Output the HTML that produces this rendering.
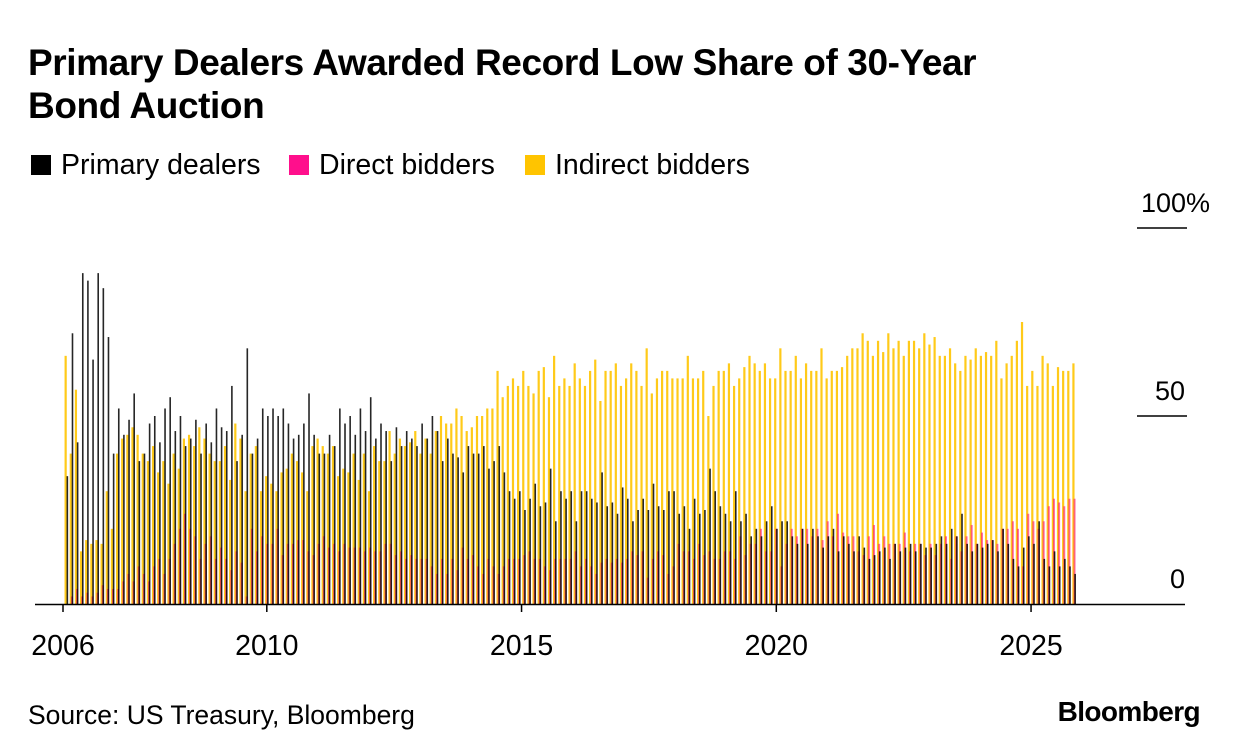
<!DOCTYPE html>
<html><head><meta charset="utf-8"><style>
body{margin:0;width:1240px;height:756px;background:#fff;font-family:"Liberation Sans",sans-serif;overflow:hidden;position:relative}
.t{position:absolute;left:28px;top:41px;font-size:37px;font-weight:bold;line-height:43px;color:#000;letter-spacing:-0.4px}
.lg{position:absolute;top:149px;font-size:28.5px;color:#000}
.sw{display:inline-block;width:20px;height:20px;margin-right:10px;vertical-align:-1px}
.src{position:absolute;left:28px;top:700px;font-size:26.5px}
.bb{position:absolute;right:40px;top:696px;font-size:28px;font-weight:bold;letter-spacing:-0.6px}
</style></head><body>
<div class="t">Primary Dealers Awarded Record Low Share of 30-Year<br>Bond Auction</div>
<div class="lg" style="left:31px"><span class="sw" style="background:#000"></span>Primary dealers</div>
<div class="lg" style="left:289px"><span class="sw" style="background:#ff0f8c"></span>Direct bidders</div>
<div class="lg" style="left:525px"><span class="sw" style="background:#ffc400"></span>Indirect bidders</div>
<svg id="c" width="1240" height="756" style="position:absolute;left:0;top:0"></svg>
<div class="src">Source: US Treasury, Bloomberg</div>
<div class="bb">Bloomberg</div>
<script>
const dealers=[34,72,43,88,86,65,88,84,71,40, 52,45,49,56,38,40,48,50,43,52, 55,46,50,42,44,49,40,48,43,52, 47,46,58,38,45,68,40,44,52,50, 52,50,52,48,44,45,48,56,45,40, 40,45,42,52,48,50,45,52,46,55, 44,48,46,38,47,42,46,44,42,48, 44,50,46,38,44,40,39,35,42,40, 40,42,36,38,42,35,30,28,30,25, 28,32,26,27,36,22,30,28,30,22, 30,30,28,27,35,26,27,24,31,28, 22,25,28,25,32,26,25,30,30,24, 26,20,28,24,25,36,30,26,24,22, 30,22,24,18,20,18,22,26,20,22, 22,18,16,20,16,20,18,15,18,20, 14,18,16,14,18,15,12,13,14,15, 12,16,14,15,16,14,16,15,15,16, 18,16,20,18,24,16,14,16,15,16, 17,14,20,16,12,10,15,18,16,22, 12,10,14,10,12,10,8];
const indirect=[66,40,57,14,17,16,17,16,30,20, 40,44,45,47,45,40,38,42,35,38, 32,40,36,44,45,42,47,44,40,38, 38,42,33,48,44,30,40,42,30,34, 32,30,35,36,40,38,35,30,42,44, 42,40,42,34,36,35,40,33,40,30, 42,38,38,46,40,44,42,43,46,40, 44,40,46,50,48,48,52,50,46,47, 50,50,52,52,62,55,58,60,58,62, 58,56,62,63,55,66,58,60,58,64, 60,58,62,65,54,62,62,64,58,60, 64,62,58,68,56,60,62,62,60,60, 60,66,60,60,62,50,58,62,62,64, 58,60,63,66,64,62,64,60,60,68, 62,62,66,60,64,62,62,68,60,62, 62,63,66,68,68,72,70,66,70,67, 72,68,70,66,70,70,68,72,69,71, 66,66,68,64,62,66,65,68,66,67, 66,70,60,64,66,70,75,58,62,58, 66,64,58,63,62,62,64];
const direct=[0,2,4,2,3,2,3,5,4,4, 4,6,8,6,10,8,6,10,12,8, 12,16,20,24,20,18,12,16,18,12, 15,12,9,14,11,2,20,14,18,16, 16,20,13,16,16,17,17,14,13,16, 18,15,16,14,16,15,15,15,14,15, 14,14,16,16,13,14,12,13,12,12, 12,10,8,12,8,12,9,15,12,13, 10,8,12,10,8,10,12,12,12,13, 14,12,12,10,9,12,12,12,12,14, 10,12,10,8,11,12,11,12,11,12, 14,13,14,7,12,14,13,8,10,16, 14,14,12,16,13,14,12,12,14,14, 12,18,13,16,16,20,14,14,20,10, 16,20,18,20,20,18,20,17,22,18, 24,19,18,18,14,13,18,21,16,18, 16,16,16,19,14,16,16,13,16,13, 16,18,12,18,14,18,21,16,19,17, 17,16,20,20,22,20,10,24,22,20, 22,26,28,27,26,28,28];
const yTicks=[0,50,100];
const yTickLabels=["0","50","100%"];
const xTicks=[2006,2010,2015,2020,2025];
const startDate=2006.05, endDate=2025.83;
const NS="http://www.w3.org/2000/svg";
const svg=document.getElementById('c');
const X=t=>63+50.95*(t-2006);
const Y=v=>604-3.76*v;
const n=dealers.length;
const dateOf=i=>startDate+i*(endDate-startDate)/(n-1);
function mk(tag,attrs){const e=document.createElementNS(NS,tag);for(const k in attrs)e.setAttribute(k,attrs[k]);svg.appendChild(e);return e;}
for(let i=0;i<n;i++){
  const x=X(dateOf(i));
  let r=mk('rect',{x:x-1,y:Y(indirect[i]),width:2.2,height:Y(0)-Y(indirect[i]),fill:'#ffc400','fill-opacity':0.9});
  
  
  r=mk('rect',{x:x+0.2,y:Y(direct[i]),width:2,height:Y(0)-Y(direct[i]),fill:'#ff0f6c','fill-opacity':0.6});
  
  
  r=mk('rect',{x:x+1,y:Y(dealers[i]),width:1.6,height:Y(0)-Y(dealers[i]),fill:'#000','fill-opacity':0.85});
  
  
}
let ax=mk('line',{x1:35,x2:1185,y1:604.5,y2:604.5,stroke:'#000','stroke-width':1.5});


yTicks.forEach((v,i)=>{
  if(v>0){const l=mk('line',{x1:1137,x2:1187,y1:Y(v),y2:Y(v),stroke:'#000','stroke-width':1.5});
  
  }
  const t=mk('text',{x:v===100?1210:1185,y:Y(v)-16,'text-anchor':'end','font-size':27,'font-family':'Liberation Sans, sans-serif'});
  t.textContent=yTickLabels[i];
  
  
});
xTicks.forEach(yr=>{
  const l=mk('line',{x1:X(yr),x2:X(yr),y1:604,y2:612,stroke:'#000','stroke-width':1.5});
  
  
  const t=mk('text',{x:X(yr),y:655,'text-anchor':'middle','font-size':28.5,'font-family':'Liberation Sans, sans-serif'});
  t.textContent=yr;
  
  
});
</script>
</body></html>
